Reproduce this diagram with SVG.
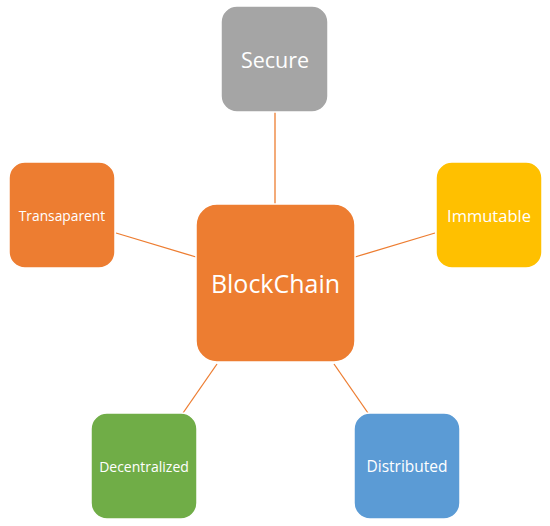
<svg xmlns="http://www.w3.org/2000/svg" width="550" height="526" viewBox="0 0 550 526">
<style>
.box{stroke:#ffffff;stroke-width:1.5}
.t{font-family:"Open Sans","Liberation Sans",sans-serif;fill:#ffffff;text-anchor:middle;dominant-baseline:central}
.c{stroke:#ED7D31;stroke-width:1.3;fill:none}
</style>
<rect width="550" height="526" fill="#ffffff"/>
<g id="connectors">
<line class="c" x1="275" y1="112" x2="275" y2="204"/>
<line class="c" x1="116" y1="233" x2="196" y2="257"/>
<line class="c" x1="435" y1="233" x2="355" y2="257"/>
<line class="c" x1="183" y1="413" x2="217" y2="364"/>
<line class="c" x1="368" y1="413" x2="334" y2="364"/>
</g>
<g id="blockchain">
<rect class="box" x="196" y="204" width="159" height="158" rx="21" fill="#ED7D31"/>
<text class="t" x="275.5" y="283" font-size="25">BlockChain</text>
</g>
<g id="secure">
<rect class="box" x="221" y="6" width="107" height="106" rx="16" fill="#A5A5A5"/>
<text class="t" x="275" y="59" font-size="21.5">Secure</text>
</g>
<g id="transaparent">
<rect class="box" x="9" y="162" width="106" height="106" rx="16" fill="#ED7D31"/>
<text class="t" x="62" y="215" font-size="13.8">Transaparent</text>
</g>
<g id="immutable">
<rect class="box" x="436" y="162" width="106" height="106" rx="16" fill="#FFC000"/>
<text class="t" x="489" y="215" font-size="16.5">Immutable</text>
</g>
<g id="decentralized">
<rect class="box" x="91" y="413" width="106" height="106" rx="16" fill="#70AD47"/>
<text class="t" x="144" y="466" font-size="14">Decentralized</text>
</g>
<g id="distributed">
<rect class="box" x="354" y="413" width="106" height="106" rx="16" fill="#5B9BD5"/>
<text class="t" x="407" y="466" font-size="15.5">Distributed</text>
</g>
</svg>
